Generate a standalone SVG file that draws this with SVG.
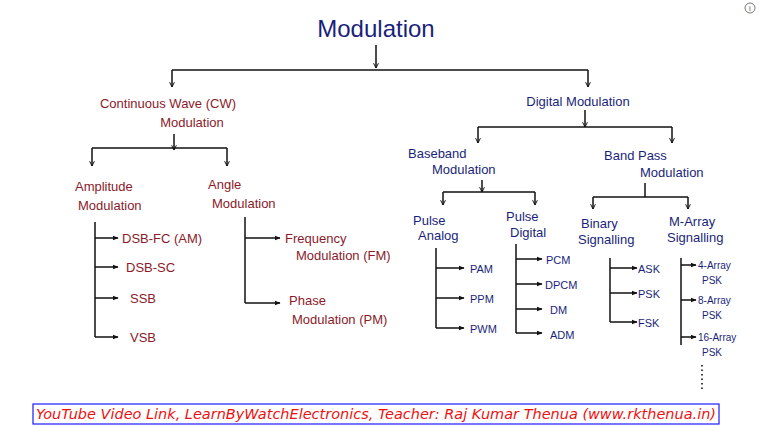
<svg xmlns="http://www.w3.org/2000/svg" width="768" height="444" viewBox="0 0 768 444">
<defs>
<marker id="ah" viewBox="0 0 10 10" refX="9" refY="5" markerWidth="6" markerHeight="6" orient="auto" markerUnits="userSpaceOnUse"><path d="M1,1 L9,5 L1,9" fill="none" stroke="#111" stroke-width="1.6"/></marker>
<marker id="af" viewBox="0 0 10 10" refX="9" refY="5" markerWidth="6" markerHeight="6" orient="auto" markerUnits="userSpaceOnUse"><path d="M0,1 L10,5 L0,9 z" fill="#111"/></marker>
</defs>
<style>
text{font-family:"Liberation Sans",Arial,sans-serif;font-size:13px}
.r{fill:#8b1a2a}.b{fill:#1a1f7a}
.s11{font-size:11px}.s10{font-size:10px}
.big{font-size:24px}
.foot{font-family:"DejaVu Sans",sans-serif;font-style:italic;font-size:14px;fill:#ee1111}
.l{stroke:#111;stroke-width:1.5;fill:none}
.d{marker-end:url(#ah)}.f{marker-end:url(#af)}
</style>
<rect width="768" height="444" fill="#fff"/>
<g id="info"><circle cx="750" cy="8" r="5" fill="none" stroke="#555" stroke-width="0.8"/><text x="750" y="11" style="font-size:8px" text-anchor="middle" fill="#555">i</text></g>
<g id="connectors">
<path class="l d" d="M376,45 V68"/><path class="l" d="M172,70 H588"/>
<path class="l d" d="M172,70 V87"/><path class="l d" d="M588,70 V87"/>
<path class="l d" d="M174,134 V150"/><path class="l" d="M92,148 H227"/>
<path class="l d" d="M92,148 V166"/><path class="l d" d="M227,148 V166"/>
<path class="l" d="M95,222 V337"/>
<path class="l f" d="M95,238 H118"/><path class="l f" d="M95,267 H118"/><path class="l f" d="M95,298 H118"/><path class="l f" d="M95,337 H118"/>
<path class="l" d="M245,217 V303"/>
<path class="l f" d="M245,238 H280"/><path class="l f" d="M245,303 H280"/>
<path class="l d" d="M585,110 V127"/><path class="l" d="M478,127 H672"/>
<path class="l d" d="M478,127 V143"/><path class="l d" d="M672,127 V143"/>
<path class="l d" d="M482,180 V192"/><path class="l" d="M443,192 H535"/>
<path class="l d" d="M443,192 V205"/><path class="l d" d="M535,192 V205"/>
<path class="l" d="M645,183 V197"/><path class="l" d="M593,197 H688"/>
<path class="l d" d="M593,197 V209"/><path class="l d" d="M688,197 V209"/>
<path class="l" d="M436,248 V328"/>
<path class="l f" d="M436,268 H464"/><path class="l f" d="M436,298 H464"/><path class="l f" d="M436,328 H464"/>
<path class="l" d="M516,244 V333"/>
<path class="l f" d="M516,259 H542"/><path class="l f" d="M516,284 H542"/><path class="l f" d="M516,309 H542"/><path class="l f" d="M516,333 H542"/>
<path class="l" d="M610,258 V322"/>
<path class="l f" d="M610,268 H637"/><path class="l f" d="M610,293 H637"/><path class="l f" d="M610,322 H637"/>
<path class="l" d="M681,258 V345"/>
<path class="l f" d="M681,265 H696"/><path class="l f" d="M681,300 H696"/><path class="l f" d="M681,337 H696"/>
<path d="M702,365 V392" stroke="#111" stroke-width="1.6" stroke-dasharray="1.5 3"/>
</g>
<g id="root"><text x="376" y="37" class="b big" text-anchor="middle">Modulation</text></g>
<g id="cw"><text x="168" y="108" class="r" text-anchor="middle">Continuous Wave (CW)</text><text x="192" y="127" class="r" text-anchor="middle">Modulation</text></g>
<g id="am"><text x="75" y="191" class="r">Amplitude</text><text x="78" y="210" class="r">Modulation</text></g>
<g id="angle"><text x="208" y="189" class="r">Angle</text><text x="212" y="208" class="r">Modulation</text></g>
<g id="dsbfc"><text x="122" y="243" class="r">DSB-FC (AM)</text></g>
<g id="dsbsc"><text x="126" y="272" class="r">DSB-SC</text></g>
<g id="ssb"><text x="130" y="303" class="r">SSB</text></g>
<g id="vsb"><text x="130" y="342" class="r">VSB</text></g>
<g id="fm"><text x="285" y="243" class="r">Frequency</text><text x="296" y="260" class="r">Modulation (FM)</text></g>
<g id="pm"><text x="289" y="305" class="r">Phase</text><text x="292" y="324" class="r">Modulation (PM)</text></g>
<g id="digital"><text x="578" y="106" class="b" text-anchor="middle">Digital Modulation</text></g>
<g id="baseband"><text x="408" y="158" class="b">Baseband</text><text x="432" y="174" class="b">Modulation</text></g>
<g id="bandpass"><text x="604" y="160" class="b">Band Pass</text><text x="640" y="177" class="b">Modulation</text></g>
<g id="panalog"><text x="413" y="225" class="b">Pulse</text><text x="418" y="240" class="b">Analog</text></g>
<g id="pdigital"><text x="506" y="221" class="b">Pulse</text><text x="510" y="237" class="b">Digital</text></g>
<g id="binary"><text x="581" y="228" class="b">Binary</text><text x="578" y="244" class="b">Signalling</text></g>
<g id="marray"><text x="669" y="226" class="b">M-Array</text><text x="667" y="242" class="b">Signalling</text></g>
<g id="pam"><text x="470" y="273" class="b s11">PAM</text></g>
<g id="ppm"><text x="470" y="303" class="b s11">PPM</text></g>
<g id="pwm"><text x="470" y="333" class="b s11">PWM</text></g>
<g id="pcm"><text x="546" y="264" class="b s11">PCM</text></g>
<g id="dpcm"><text x="545" y="289" class="b s11">DPCM</text></g>
<g id="dm"><text x="550" y="314" class="b s11">DM</text></g>
<g id="adm"><text x="550" y="339" class="b s11">ADM</text></g>
<g id="ask"><text x="638" y="273" class="b s11">ASK</text></g>
<g id="psk"><text x="638" y="298" class="b s11">PSK</text></g>
<g id="fsk"><text x="638" y="327" class="b s11">FSK</text></g>
<g id="psk4"><text x="698" y="269" class="b s10">4-Array</text><text x="702" y="284" class="b s10">PSK</text></g>
<g id="psk8"><text x="698" y="304" class="b s10">8-Array</text><text x="702" y="319" class="b s10">PSK</text></g>
<g id="psk16"><text x="698" y="341" class="b s10">16-Array</text><text x="702" y="356" class="b s10">PSK</text></g>
<g id="footer"><rect x="33" y="404" width="686" height="20" fill="none" stroke="#1a1aff" stroke-width="1.2"/><text x="36" y="419" class="foot" textLength="680" lengthAdjust="spacingAndGlyphs">YouTube Video Link, LearnByWatchElectronics, Teacher: Raj Kumar Thenua (www.rkthenua.in)</text></g>
</svg>
